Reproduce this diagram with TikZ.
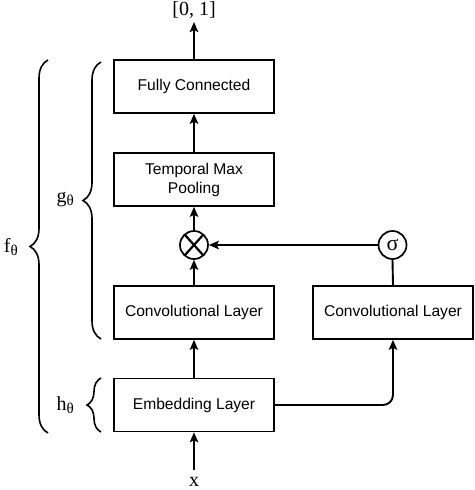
\documentclass[tikz,border=0pt]{standalone}
\usepackage{fontspec}
\setmainfont{Liberation Serif}
\newfontfamily\boxfont{Liberation Sans}
\usetikzlibrary{arrows.meta,decorations.pathreplacing,calc}
\begin{document}
\begin{tikzpicture}[x=1pt,y=1pt,
  layerbox/.style={draw, line width=1.7pt, minimum width=160pt, minimum height=53pt, inner sep=0pt, align=center, font=\boxfont\fontsize{15.6}{19}\selectfont},
  opcirc/.style={draw, circle, line width=1.7pt, minimum size=28pt, inner sep=0pt},
  arr/.style={line width=1.9pt, -{Stealth[length=10pt,width=8.5pt,inset=2pt]}},
  conn/.style={line width=1.9pt},
  bracestyle/.style={line width=1.6pt, decorate, decoration={brace, amplitude=18pt}},
  lbl/.style={font=\fontsize{20}{20}\selectfont, inner sep=0pt}
]
\useasboundingbox (0,0) rectangle (474,-490);
\node[layerbox] (fc) at (194,-86.5) {Fully Connected};
\node[layerbox] (tmp) at (194,-179.5) {Temporal Max\\Pooling};
\node[opcirc] (ot) at (194,-245) {};
\node[opcirc, font=\fontsize{22}{22}\selectfont] (sig) at (392.5,-245) {σ};
\node[layerbox] (conv1) at (194,-312.5) {Convolutional Layer};
\node[layerbox] (conv2) at (393,-312.5) {Convolutional Layer};
\node[layerbox] (emb) at (194,-405) {Embedding Layer};
\node[lbl] (out) at (194,-10) {[0, 1]};
\node[lbl] (xin) at (194,-482) {x};
\coordinate (outtip) at (194,-22);
\coordinate (xstart) at (194,-470);
% cross inside the product circle
\draw[line width=2.2pt] ($(ot.center)+(-9,10)$) -- ($(ot.center)+(9,-10)$);
\draw[line width=2.2pt] ($(ot.center)+(-9,-10)$) -- ($(ot.center)+(9,10)$);
% connectors
\draw[arr] (xstart) -- (emb.south);
\draw[arr] (emb.north) -- (conv1.south);
\draw[arr] (conv1.north) -- (ot.south);
\draw[arr] (ot.north) -- (tmp.south);
\draw[arr] (tmp.north) -- (fc.south);
\draw[arr] (fc.north) -- (outtip);
\draw[arr, rounded corners=10pt] (emb.east) -| (conv2.south);
\draw[conn] (conv2.north) -- (sig.south);
\draw[arr] (sig.west) -- (ot.east);
% braces
\coordinate (fbot) at (48,-433);
\coordinate (ftop) at (48,-60);
\coordinate (gbot) at (101,-339);
\coordinate (gtop) at (101,-62);
\coordinate (hbot) at (101,-432);
\coordinate (htop) at (101,-378);
\draw[bracestyle] (fbot) -- (ftop);
\draw[bracestyle] (gbot) -- (gtop);
\draw[bracestyle, decoration={brace, amplitude=14pt}] (hbot) -- (htop);
\node[lbl, anchor=east] (flbl) at (18,-247) {f\raisebox{-0.3ex}{\fontsize{15}{15}\selectfont θ}};
\node[lbl, anchor=east] (glbl) at (74,-200) {g\raisebox{-0.3ex}{\fontsize{15}{15}\selectfont θ}};
\node[lbl, anchor=east] (hlbl) at (74,-405) {h\raisebox{-0.3ex}{\fontsize{15}{15}\selectfont θ}};
\end{tikzpicture}
\end{document}
